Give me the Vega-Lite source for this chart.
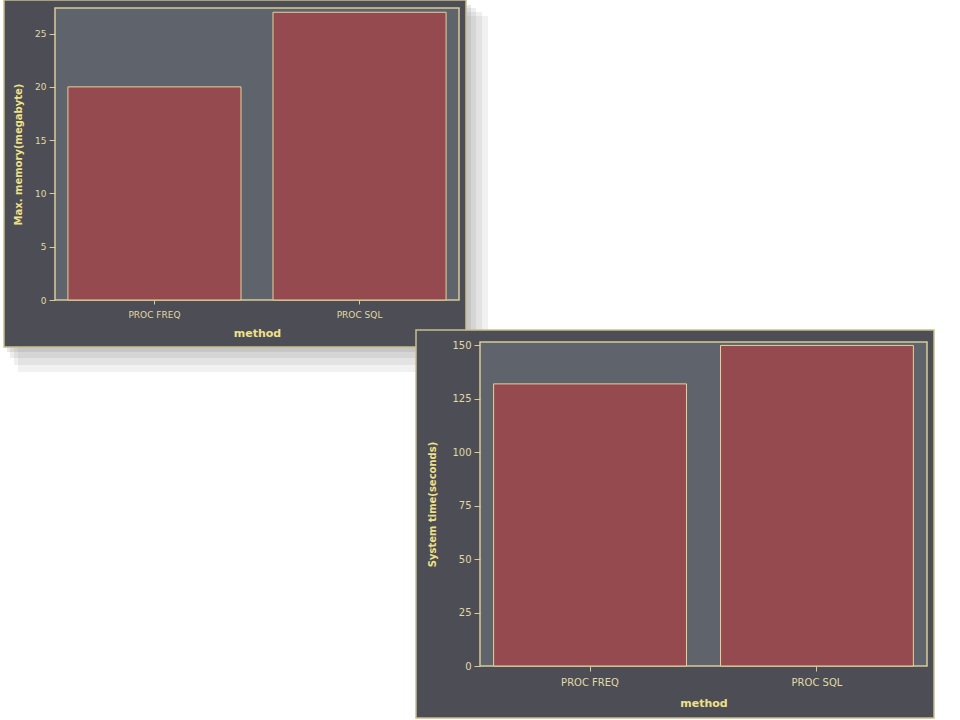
{
  "$schema": "https://vega.github.io/schema/vega-lite/v6.json",
  "width": 960,
  "height": 720,
  "padding": 0,
  "autosize": {"type": "none"},
  "background": "white",
  "datasets": {
    "memory": [
      {"method": "PROC FREQ", "memory": 20},
      {"method": "PROC SQL", "memory": 27}
    ],
    "systime": [
      {"method": "PROC FREQ", "seconds": 132},
      {"method": "PROC SQL", "seconds": 150}
    ],
    "frame": [{}]
  },
  "config": {
    "view": {"stroke": null},
    "axis": {
      "grid": false,
      "domain": false,
      "labelFont": "DejaVu Sans",
      "labelFontSize": 9,
      "labelColor": "#e2d9a6",
      "tickColor": "#d8cc98",
      "titleFont": "DejaVu Sans",
      "titleFontWeight": "bold",
      "titleColor": "#efe08a"
    }
  },
  "resolve": {
    "scale": {"x": "independent", "y": "independent"},
    "axis": {"x": "independent", "y": "independent"}
  },
  "layer": [
    {
      "data": {"name": "frame"},
      "mark": {"type": "rect", "fill": "#8c8c8c", "opacity": 0.12},
      "encoding": {
        "x": {"datum": 0, "type": "quantitative", "scale": {"domain": [0, 1], "range": [18, 488]}, "axis": null},
        "x2": {"datum": 1},
        "y": {"datum": 0, "type": "quantitative", "scale": {"domain": [0, 1], "range": [372, 16]}, "axis": null},
        "y2": {"datum": 1}
      }
    },
    {
      "data": {"name": "frame"},
      "mark": {"type": "rect", "fill": "#8c8c8c", "opacity": 0.14},
      "encoding": {
        "x": {"datum": 0, "type": "quantitative", "scale": {"domain": [0, 1], "range": [14, 482]}, "axis": null},
        "x2": {"datum": 1},
        "y": {"datum": 0, "type": "quantitative", "scale": {"domain": [0, 1], "range": [365, 12]}, "axis": null},
        "y2": {"datum": 1}
      }
    },
    {
      "data": {"name": "frame"},
      "mark": {"type": "rect", "fill": "#8c8c8c", "opacity": 0.16},
      "encoding": {
        "x": {"datum": 0, "type": "quantitative", "scale": {"domain": [0, 1], "range": [10, 476]}, "axis": null},
        "x2": {"datum": 1},
        "y": {"datum": 0, "type": "quantitative", "scale": {"domain": [0, 1], "range": [358, 8]}, "axis": null},
        "y2": {"datum": 1}
      }
    },
    {
      "data": {"name": "frame"},
      "mark": {"type": "rect", "fill": "#8c8c8c", "opacity": 0.2},
      "encoding": {
        "x": {"datum": 0, "type": "quantitative", "scale": {"domain": [0, 1], "range": [7, 471]}, "axis": null},
        "x2": {"datum": 1},
        "y": {"datum": 0, "type": "quantitative", "scale": {"domain": [0, 1], "range": [352, 5]}, "axis": null},
        "y2": {"datum": 1}
      }
    },
    {
      "data": {"name": "frame"},
      "mark": {"type": "rect", "fill": "#4c4d55", "stroke": "#c8bf8c", "strokeWidth": 1.5},
      "encoding": {
        "x": {"datum": 0, "type": "quantitative", "scale": {"domain": [0, 1], "range": [4, 466]}, "axis": null},
        "x2": {"datum": 1},
        "y": {"datum": 0, "type": "quantitative", "scale": {"domain": [0, 1], "range": [347, 0]}, "axis": null},
        "y2": {"datum": 1}
      }
    },
    {
      "data": {"name": "frame"},
      "mark": {"type": "rect", "fill": "#5f636b", "stroke": "#d8cc98", "strokeWidth": 1.5},
      "encoding": {
        "x": {"datum": 0, "type": "quantitative", "scale": {"domain": [0, 1], "range": [55, 459]}, "axis": null},
        "x2": {"datum": 1},
        "y": {"datum": 0, "type": "quantitative", "scale": {"domain": [0, 1], "range": [300, 8]}, "axis": null},
        "y2": {"datum": 1}
      }
    },
    {
      "data": {"name": "memory"},
      "mark": {"type": "bar", "fill": "#954a4f", "stroke": "#e3d49a", "strokeWidth": 1},
      "encoding": {
        "x": {
          "field": "method", "type": "nominal",
          "scale": {"range": [55, 459], "paddingInner": 0.156, "paddingOuter": 0.063},
          "axis": {"orient": "bottom", "zindex": 1, "offset": -420, "labelAngle": 0, "tickSize": 4, "labelPadding": 6, "titleFontSize": 11, "titlePadding": 8}
        },
        "y": {
          "field": "memory", "type": "quantitative",
          "title": "Max. memory(megabyte)",
          "scale": {"domain": [0, 27.4], "range": [300, 8], "nice": false},
          "axis": {"orient": "left", "zindex": 1, "offset": -55, "values": [0, 5, 10, 15, 20, 25], "tickSize": 6, "labelPadding": 3, "titleFontSize": 10, "titlePadding": 11}
        }
      }
    },
    {
      "data": {"name": "frame"},
      "mark": {"type": "rect", "fill": "#4c4d55", "stroke": "#c8bf8c", "strokeWidth": 1.5},
      "encoding": {
        "x": {"datum": 0, "type": "quantitative", "scale": {"domain": [0, 1], "range": [416, 934]}, "axis": null},
        "x2": {"datum": 1},
        "y": {"datum": 0, "type": "quantitative", "scale": {"domain": [0, 1], "range": [718, 330]}, "axis": null},
        "y2": {"datum": 1}
      }
    },
    {
      "data": {"name": "frame"},
      "mark": {"type": "rect", "fill": "#5f636b", "stroke": "#d8cc98", "strokeWidth": 1.5},
      "encoding": {
        "x": {"datum": 0, "type": "quantitative", "scale": {"domain": [0, 1], "range": [480, 927]}, "axis": null},
        "x2": {"datum": 1},
        "y": {"datum": 0, "type": "quantitative", "scale": {"domain": [0, 1], "range": [666, 342]}, "axis": null},
        "y2": {"datum": 1}
      }
    },
    {
      "data": {"name": "systime"},
      "mark": {"type": "bar", "fill": "#954a4f", "stroke": "#e3d49a", "strokeWidth": 1},
      "encoding": {
        "x": {
          "field": "method", "type": "nominal",
          "scale": {"range": [480, 927], "paddingInner": 0.15, "paddingOuter": 0.06},
          "axis": {"orient": "bottom", "zindex": 1, "offset": -54, "labelAngle": 0, "tickSize": 5, "labelPadding": 6, "labelFontSize": 10, "titleFontSize": 11, "titlePadding": 10}
        },
        "y": {
          "field": "seconds", "type": "quantitative",
          "title": "System time(seconds)",
          "scale": {"domain": [0, 151.6], "range": [666, 342], "nice": false},
          "axis": {"orient": "left", "zindex": 1, "offset": -480, "values": [0, 25, 50, 75, 100, 125, 150], "tickSize": 6, "labelPadding": 3, "labelFontSize": 10, "titleFontSize": 10, "titlePadding": 14}
        }
      }
    }
  ]
}
